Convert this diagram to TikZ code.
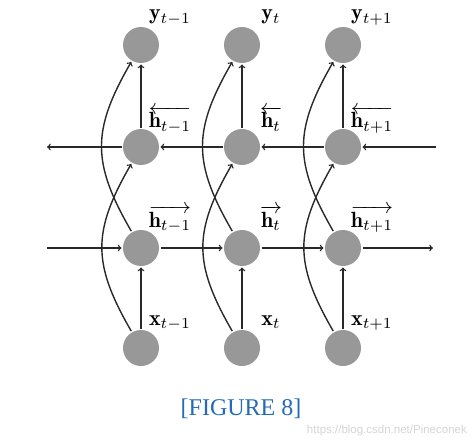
\documentclass[tikz,border=0pt]{standalone}
\usepackage{fontspec}
\newfontfamily\capfont{Liberation Serif}
\newfontfamily\wmfont{Liberation Sans}
\definecolor{cellgray}{RGB}{152,152,152}
\definecolor{capblue}{RGB}{36,106,184}
\definecolor{linegray}{RGB}{40,40,40}
\definecolor{wmgray}{RGB}{212,212,212}
\begin{document}
\begin{tikzpicture}[x=1pt,y=1pt,
  cell/.style={circle,fill=cellgray,minimum size=36pt,inner sep=0pt,outer sep=1.5pt},
  conn/.style={->,draw=linegray,line width=1.4pt},
  lab/.style={anchor=base,inner sep=0pt,scale=2.2}]
\useasboundingbox (0,0) rectangle (474,-444);
% nodes
\foreach \i/\cx in {1/141,2/242,3/343}{
  \node[cell] (y\i) at (\cx,-45) {};
  \node[cell] (b\i) at (\cx,-147) {};
  \node[cell] (f\i) at (\cx,-248) {};
  \node[cell] (x\i) at (\cx,-348) {};
}
\coordinate (fl) at (47,-248);
\coordinate (fr) at (433,-248);
\coordinate (bl) at (47,-147);
\coordinate (br) at (436,-147);
% labels
\node[lab] (ly1) at (170,-20) {$\mathbf{y}_{t-1}$};
\node[lab] (ly2) at (271,-20) {$\mathbf{y}_{t}$};
\node[lab] (ly3) at (372,-20) {$\mathbf{y}_{t+1}$};
\node[lab] (lb1) at (170,-128) {$\overleftarrow{\mathbf{h}_{t-1}}$};
\node[lab] (lb2) at (271,-128) {$\overleftarrow{\mathbf{h}_{t}}$};
\node[lab] (lb3) at (372,-128) {$\overleftarrow{\mathbf{h}_{t+1}}$};
\node[lab] (lf1) at (170,-227) {$\overrightarrow{\mathbf{h}_{t-1}}$};
\node[lab] (lf2) at (271,-227) {$\overrightarrow{\mathbf{h}_{t}}$};
\node[lab] (lf3) at (372,-227) {$\overrightarrow{\mathbf{h}_{t+1}}$};
\node[lab] (lx1) at (170,-325) {$\mathbf{x}_{t-1}$};
\node[lab] (lx2) at (271,-325) {$\mathbf{x}_{t}$};
\node[lab] (lx3) at (372,-325) {$\mathbf{x}_{t+1}$};
% horizontal connectors
\draw[conn] (fl) -- (f1);
\draw[conn] (f1) -- (f2);
\draw[conn] (f2) -- (f3);
\draw[conn] (f3) -- (fr);
\draw[conn] (br) -- (b3);
\draw[conn] (b3) -- (b2);
\draw[conn] (b2) -- (b1);
\draw[conn] (b1) -- (bl);
% vertical and curved connectors
\foreach \i in {1,2,3}{
  \draw[conn] (x\i) -- (f\i);
  \draw[conn] (b\i) -- (y\i);
  \draw[conn] (x\i.120) to[out=120,in=-120,looseness=1.2] (b\i.-120);
  \draw[conn] (f\i.120) to[out=120,in=-120,looseness=1.2] (y\i.-120);
}
% caption
\node[anchor=base,inner sep=0pt,text=capblue,font=\capfont\fontsize{24}{28}\selectfont] (cap) at (241,-415) {[FIGURE 8]};
\node[anchor=base east,inner sep=0pt,text=wmgray,font=\wmfont\fontsize{11.5}{13}\selectfont] (wm) at (467,-433) {https://blog.csdn.net/Pineconek};
\end{tikzpicture}
\end{document}
